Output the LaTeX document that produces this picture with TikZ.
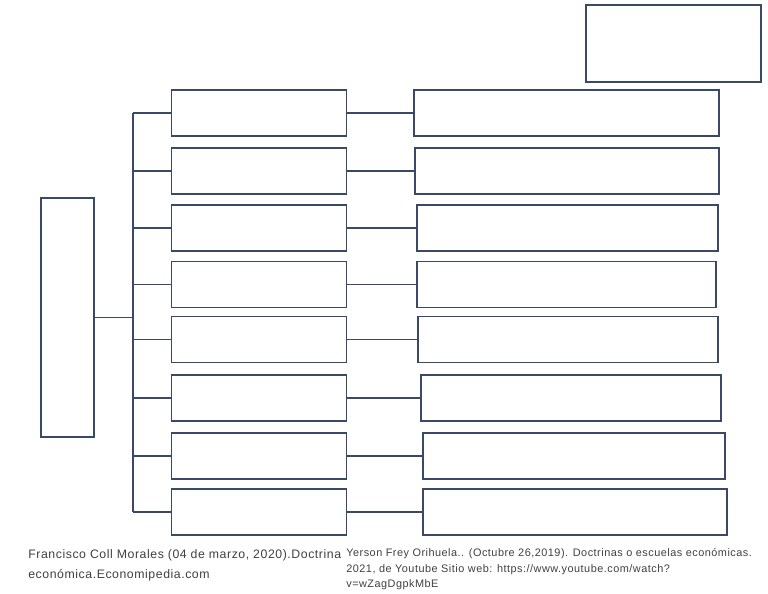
\documentclass[tikz,border=0pt]{standalone}
\usepackage{fontspec}
\setmainfont{Liberation Sans}[LetterSpace=4.5]
\definecolor{marco}{RGB}{58,74,102}
\begin{document}
\begin{tikzpicture}[x=0.02cm, y=-0.02cm,
		caja/.style={draw=marco, line width=0.75pt, minimum height=0.92cm, inner sep=0pt},
		rama/.style={draw=marco, line width=0.6pt},
		cita/.style={text=black!75, anchor=north west, align=left, inner sep=0pt}]
	\useasboundingbox (0,0) rectangle (768,594);
	\node[caja, minimum width=3.5cm, minimum height=1.54cm] (titulo) at (673.5,43.5) {};
	\node[caja, minimum width=1.06cm, minimum height=4.78cm] (izq) at (67.5,317.5) {};
	\foreach \i/\y/\rx/\rw in {1/113/566.5/6.10, 2/171/567/6.08, 3/228/567.5/6.02, 4/284.5/566.5/5.98,
			5/339.5/568/6.00, 6/398/571/6.00, 7/456/574/6.04, 8/512/575/6.08}{
		\coordinate (t\i) at (133,\y);
		\node[caja, minimum width=3.5cm] (m\i) at (259,\y) {};
		\node[caja, minimum width=\rw cm] (r\i) at (\rx,\y) {};
		\draw[rama] (t\i) -- (m\i);
		\draw[rama] (m\i) -- (r\i);
	}
	\draw[rama] (t1) -- (t8);
	\draw[rama] (izq.east) -- (izq.east -| t1);
	% referencias
	\node[cita, font=\fontsize{7}{11.3}\selectfont] (ref1) at (28,549)
		{Francisco Coll Morales (04 de marzo, 2020).Doctrina\\econ\'omica.Economipedia.com};
	\node[cita, font=\fontsize{6.2}{9}\selectfont] (ref2) at (346,548)
		{Yerson Frey Orihuela.. (Octubre 26,2019). Doctrinas o escuelas econ\'omicas.\\2021, de Youtube Sitio web: https://www.youtube.com/watch?\\v=wZagDgpkMbE};
\end{tikzpicture}
\end{document}
